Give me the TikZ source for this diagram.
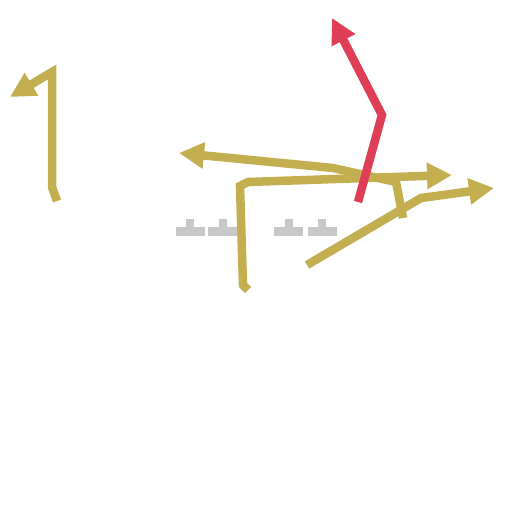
\documentclass[tikz,border=0pt]{standalone}
\usetikzlibrary{arrows.meta}
\definecolor{gold}{RGB}{196,175,80}
\definecolor{routered}{RGB}{222,62,86}
\definecolor{linegray}{RGB}{200,200,200}
\tikzset{
  route/.style={line width=8.5pt, line join=miter, -{Triangle[length=25pt,width=25pt]}},
  goldroute/.style={route, draw=gold, color=gold},
  redroute/.style={route, draw=routered, color=routered},
  lineman/.style={fill=linegray}
}
\begin{document}
\begin{tikzpicture}[x=1pt,y=-1pt]
\useasboundingbox (0,0) rectangle (512,512);
% linemen
\foreach \cx in {190,222.5,288.5,322}{
  \fill[lineman] (\cx-14.5,227) rectangle (\cx+14.5,236);
  \fill[lineman] (\cx-4,219) rectangle (\cx+4,227.5);
}
% coordinates
\coordinate (a0) at (57,201);
\coordinate (a1) at (52,187);
\coordinate (a2) at (52,72);
\coordinate (a3) at (10,97);
\coordinate (b0) at (403,218);
\coordinate (b1) at (396,182);
\coordinate (b2) at (333,168);
\coordinate (b3) at (179,153);
\coordinate (c0) at (248,290);
\coordinate (c1) at (243,285);
\coordinate (c2) at (240,186);
\coordinate (c3) at (248,182);
\coordinate (c4) at (452,175);
\coordinate (d0) at (307,265);
\coordinate (d1) at (421,198);
\coordinate (d2) at (494,188);
\coordinate (r0) at (358,202);
\coordinate (r1) at (382,115);
\coordinate (r2) at (332,18);
\draw[goldroute] (a0) -- (a1) -- (a2) -- (a3);
\draw[goldroute] (b0) -- (b1) -- (b2) -- (b3);
\draw[goldroute] (c0) -- (c1) -- (c2) -- (c3) -- (c4);
\draw[goldroute] (d0) -- (d1) -- (d2);
\draw[redroute] (r0) -- (r1) -- (r2);
\end{tikzpicture}
\end{document}
